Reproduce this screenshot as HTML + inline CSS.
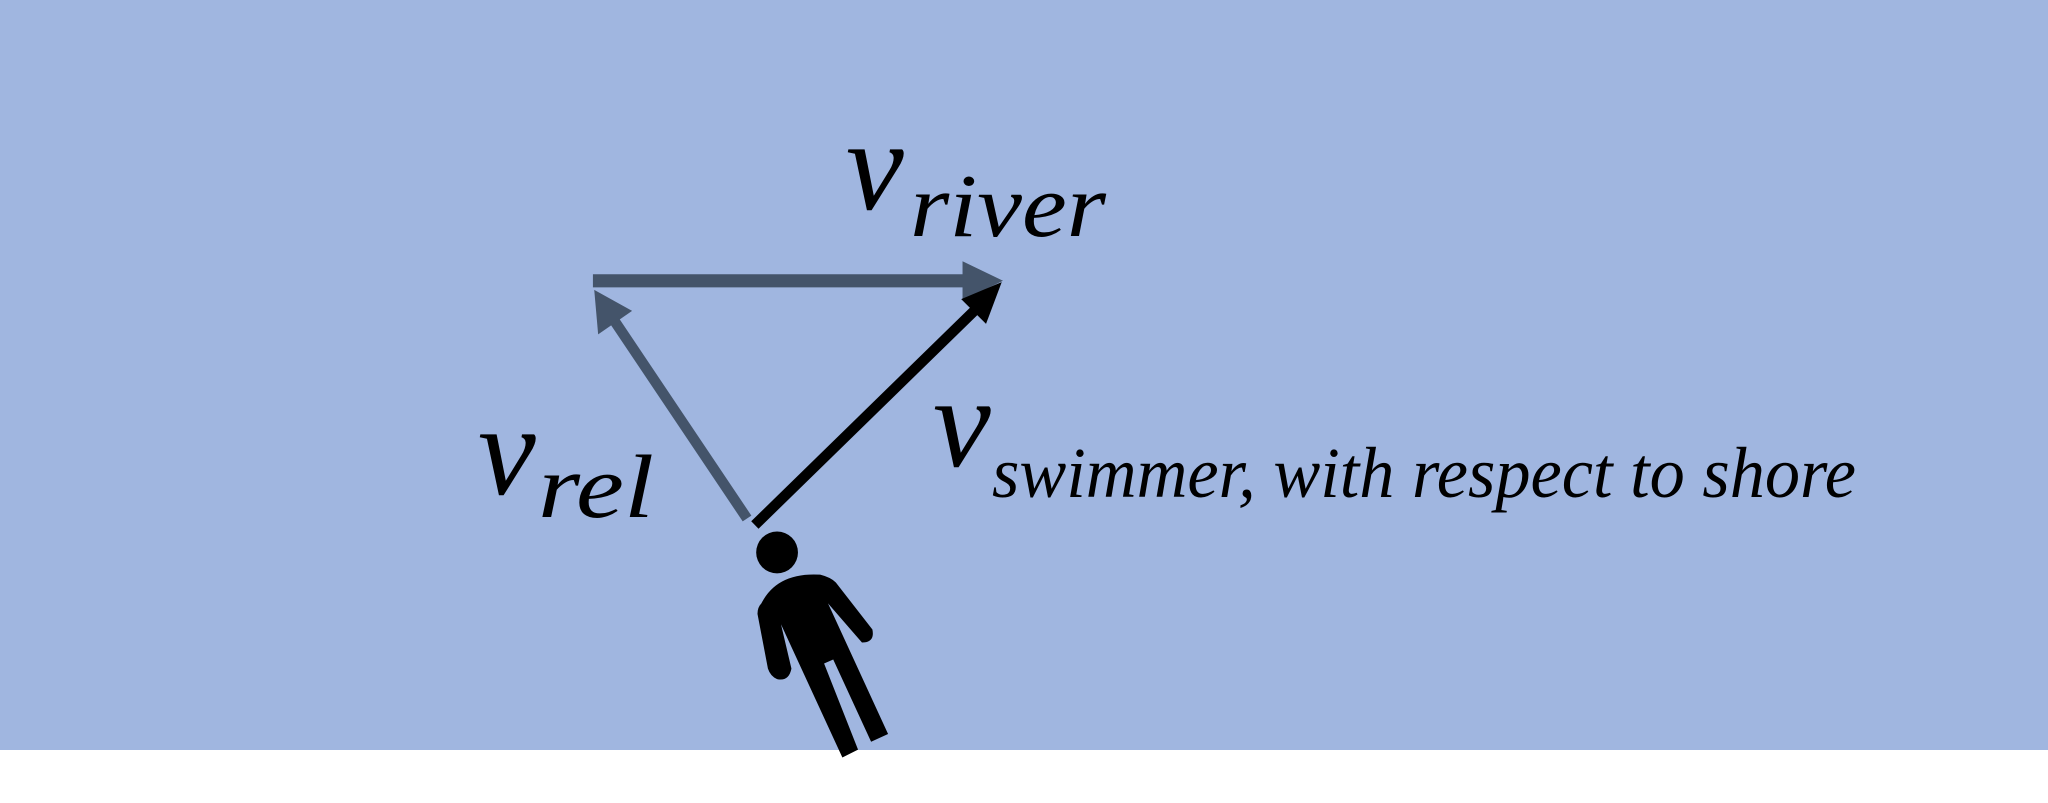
<!DOCTYPE html>
<html><head><style>html,body{margin:0;padding:0;background:#fff}svg{display:block}
.t{font-family:"Liberation Serif","DejaVu Serif",serif;font-style:italic;fill:#000}</style></head>
<body>
<svg width="2048" height="803" viewBox="0 0 2048 803" xmlns="http://www.w3.org/2000/svg">
<rect x="0" y="0" width="2048" height="750" fill="#a0b6e0"/>
<g transform="scale(1.306)">
<line x1="454" y1="215" x2="742" y2="215" stroke="#44546a" stroke-width="10"/>
<polygon points="737,200 768,215 737,230" fill="#44546a"/>
<line x1="572" y1="397" x2="470" y2="245" stroke="#44546a" stroke-width="8"/>
<polygon points="455,222 484,238 458,256" fill="#44546a"/>
<line x1="578" y1="402" x2="748" y2="236" stroke="#000" stroke-width="8"/>
<polygon points="767,216 755,248 736,229" fill="#000"/>
<circle cx="595" cy="423" r="16" fill="#000"/>
<path d="M583,462 Q595,438 628,440 Q636,442 640,446 L668,482 Q670,492 660,492 L634,462 L680,562 L667,568 L638,505 L631,508 L657,574 L645,580 L598,478 L606,512 Q604,522 595,520 Q590,518 588,512 L580,470 Q580,465 583,462 Z" fill="#000"/>
</g>
<text class="t" x="846" y="209" font-size="130">v</text>
<text class="t" x="910" y="236" font-size="90" textLength="196" lengthAdjust="spacingAndGlyphs">river</text>
<text class="t" x="478" y="494" font-size="130">v</text>
<text class="t" x="538" y="517" font-size="90" textLength="116" lengthAdjust="spacingAndGlyphs">rel</text>
<text class="t" x="933" y="466" font-size="130">v</text>
<text class="t" x="992" y="497" font-size="72" textLength="864" lengthAdjust="spacingAndGlyphs">swimmer, with respect to shore</text>
</svg>
</body></html>
